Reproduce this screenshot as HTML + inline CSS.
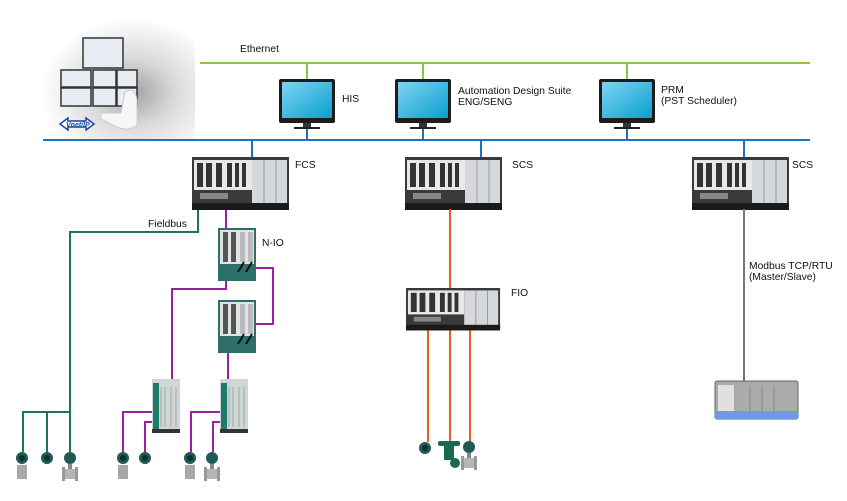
<!DOCTYPE html>
<html><head><meta charset="utf-8"><style>
html,body{margin:0;padding:0;background:#fff;width:847px;height:501px;overflow:hidden}
text{font-family:"Liberation Sans",Arial,sans-serif;font-size:10.3px;fill:#111}
</style></head><body>
<svg width="847" height="501" viewBox="0 0 847 501" xmlns="http://www.w3.org/2000/svg">
<defs>
<radialGradient id="blob" cx="0.6" cy="0.62" r="0.6">
<stop offset="0" stop-color="#8a8a8a"/><stop offset="0.45" stop-color="#d0d0d0"/><stop offset="1" stop-color="#fff"/></radialGradient>
<linearGradient id="scr" x1="0" y1="0" x2="1" y2="1"><stop offset="0" stop-color="#7fd3f0"/><stop offset="1" stop-color="#0a9fd0"/></linearGradient>
<g id="mon"><rect x="0" y="0" width="56" height="44" rx="2" fill="#1c1c1c"/><rect x="3" y="3" width="50" height="36" fill="url(#scr)"/><rect x="24" y="44" width="8" height="4" fill="#333"/><rect x="15" y="48" width="26" height="2" fill="#222"/></g>
<g id="rack"><rect x="0" y="0" width="97" height="53" fill="#3a3a3a"/><rect x="2" y="3" width="58" height="30" fill="#e8e8e8"/>
<g fill="#333"><rect x="5" y="6" width="6" height="24"/><rect x="14" y="6" width="6" height="24"/><rect x="24" y="6" width="6" height="24"/><rect x="35" y="6" width="5" height="24"/><rect x="43" y="6" width="4" height="24"/><rect x="50" y="6" width="4" height="24"/></g>
<rect x="60" y="3" width="35" height="44" fill="#d5d8da"/><line x1="72" y1="3" x2="72" y2="47" stroke="#999"/><line x1="84" y1="3" x2="84" y2="47" stroke="#999"/>
<rect x="8" y="36" width="28" height="6" fill="#888"/><rect x="0" y="46" width="97" height="7" fill="#1a1a1a"/></g>
<g id="nio"><rect x="0" y="0" width="38" height="53" fill="#2e6e68"/><rect x="2" y="2" width="34" height="34" fill="#dfe4e4"/><g fill="#555"><rect x="5" y="4" width="5" height="30"/><rect x="13" y="4" width="5" height="30"/></g><rect x="22" y="4" width="5" height="30" fill="#bbb"/><rect x="30" y="4" width="5" height="30" fill="#bbb"/><line x1="20" y1="44" x2="26" y2="34" stroke="#111" stroke-width="2"/><line x1="28" y1="44" x2="34" y2="34" stroke="#111" stroke-width="2"/></g>
<g id="io"><rect x="0" y="0" width="28" height="54" fill="#cfd6d6"/><rect x="1" y="4" width="6" height="48" fill="#1f7a6e"/><g stroke="#888" stroke-width="0.6"><line x1="9" y1="8" x2="9" y2="48"/><line x1="13" y1="8" x2="13" y2="48"/><line x1="19" y1="8" x2="19" y2="48"/><line x1="24" y1="8" x2="24" y2="48"/></g><rect x="0" y="50" width="28" height="4" fill="#333"/></g>
<g id="tx"><circle cx="7" cy="6" r="6" fill="#1f5a55"/><circle cx="7" cy="6" r="3" fill="#0e2f2c"/><rect x="2" y="13" width="10" height="14" fill="#a8a8a8"/></g>
<g id="hd"><circle cx="7" cy="6" r="6" fill="#1f5a55"/><circle cx="7" cy="6" r="3" fill="#0e2f2c"/></g>
<g id="flow"><circle cx="8" cy="6" r="6" fill="#1f5a55"/><rect x="6" y="12" width="4" height="5" fill="#888"/><rect x="1" y="17" width="14" height="10" fill="#b5b5b5"/><rect x="0" y="15" width="3" height="14" fill="#999"/><rect x="13" y="15" width="3" height="14" fill="#999"/></g>
</defs>

<!-- left console graphic -->
<rect x="40" y="15" width="155" height="125" fill="url(#blob)" opacity="0.8"/>
<rect x="83" y="38" width="40" height="30" fill="#e6ecf2" stroke="#333" stroke-width="1.5"/>
<g fill="#e6ecf2" stroke="#333" stroke-width="1.5"><rect x="61" y="70" width="30" height="17"/><rect x="93" y="70" width="23" height="17"/><rect x="117" y="70" width="20" height="17"/><rect x="61" y="88" width="30" height="18"/><rect x="93" y="88" width="23" height="18"/><rect x="117" y="88" width="20" height="18"/></g>
<path d="M125 92 q10 -6 12 8 l0 25 q-10 8 -24 0 l-12 -6 l0 -6 l20 0 z" fill="#f6f6f6" stroke="#ccc"/>
<path d="M60 124 l8 -6 l0 3 l18 0 l0 -3 l8 6 l-8 6 l0 -3 l-18 0 l0 3 z" fill="#fff" stroke="#1a47a0" stroke-width="1.5"/>
<text x="66" y="127" style="font-size:7px;font-weight:bold;fill:#1a47a0;font-style:italic">Vnet/IP</text>

<!-- Ethernet -->
<line x1="200" y1="63" x2="810" y2="63" stroke="#8cc63f" stroke-width="2"/>
<text x="240" y="52">Ethernet</text>
<g stroke="#8cc63f" stroke-width="2"><line x1="307" y1="63" x2="307" y2="79"/><line x1="423" y1="63" x2="423" y2="79"/><line x1="627" y1="63" x2="627" y2="79"/></g>
<!-- Vnet blue -->
<line x1="43" y1="140" x2="810" y2="140" stroke="#1a73c8" stroke-width="2"/>
<g stroke="#1a73c8" stroke-width="2"><line x1="307" y1="125" x2="307" y2="140"/><line x1="423" y1="125" x2="423" y2="140"/><line x1="627" y1="125" x2="627" y2="140"/><line x1="252" y1="140" x2="252" y2="157"/><line x1="481" y1="140" x2="481" y2="157"/><line x1="744" y1="140" x2="744" y2="157"/></g>

<use href="#mon" x="279" y="79"/><use href="#mon" x="395" y="79"/><use href="#mon" x="599" y="79"/>
<text x="342" y="102">HIS</text>
<text x="458" y="94">Automation Design Suite</text><text x="458" y="105">ENG/SENG</text>
<text x="661" y="93">PRM</text><text x="661" y="104">(PST Scheduler)</text>

<use href="#rack" x="192" y="157"/><use href="#rack" x="405" y="157"/><use href="#rack" x="692" y="157"/>
<text x="295" y="168">FCS</text><text x="512" y="168">SCS</text><text x="792" y="168">SCS</text>

<!-- Fieldbus -->
<g stroke="#1b7a4a" stroke-width="2" fill="none"><polyline points="198,210 198,232 70,232 70,452"/><polyline points="23,452 23,412 70,412"/><line x1="47" y1="412" x2="47" y2="452"/></g>
<text x="148" y="227">Fieldbus</text>

<!-- N-IO purple -->
<g stroke="#9b1fa0" stroke-width="2" fill="none">
<line x1="226" y1="210" x2="226" y2="228"/>
<polyline points="226,281 226,289 172,289 172,379"/>
<polyline points="256,268 273,268 273,324 256,324"/>
<line x1="228" y1="353" x2="228" y2="379"/>
<polyline points="152,412 123,412 123,452"/><polyline points="152,422 145,422 145,452"/>
<polyline points="220,412 191,412 191,452"/><polyline points="220,422 213,422 213,452"/>
</g>
<use href="#nio" x="218" y="228"/><use href="#nio" x="218" y="300"/>
<text x="262" y="246">N-IO</text>
<use href="#io" x="152" y="379"/><use href="#io" x="220" y="379"/>

<!-- devices left -->
<use href="#tx" x="15" y="452"/><use href="#hd" x="40" y="452"/><use href="#flow" x="62" y="452"/>
<use href="#tx" x="116" y="452"/><use href="#hd" x="138" y="452"/>
<use href="#tx" x="183" y="452"/><use href="#flow" x="204" y="452"/>

<!-- SCS -> FIO orange -->
<g stroke="#f05a1e" stroke-width="2"><line x1="450" y1="209" x2="450" y2="288"/><line x1="428" y1="330" x2="428" y2="442"/><line x1="450" y1="330" x2="450" y2="442"/><line x1="470" y1="330" x2="470" y2="442"/></g>
<use href="#rack" x="406" y="288" transform="translate(406 288) scale(0.97 0.8) translate(-406 -288)"/>
<text x="511" y="296">FIO</text>
<use href="#hd" x="418" y="442"/>
<g><rect x="438" y="441" width="22" height="5" rx="2" fill="#1b6a50"/><rect x="444" y="446" width="10" height="14" fill="#1b6a50"/><circle cx="455" cy="463" r="5" fill="#1b6a50"/></g>
<use href="#flow" x="461" y="441"/>

<!-- Modbus -->
<line x1="744" y1="209" x2="744" y2="381" stroke="#777" stroke-width="2"/>
<text x="749" y="269">Modbus TCP/RTU</text><text x="749" y="280">(Master/Slave)</text>
<rect x="715" y="381" width="83" height="38" rx="2" fill="#a9aca8" stroke="#666"/>
<rect x="718" y="385" width="16" height="28" fill="#e0e0e0"/><rect x="715" y="411" width="83" height="8" fill="#6d9be0"/>
<g stroke="#888"><line x1="750" y1="385" x2="750" y2="411"/><line x1="762" y1="385" x2="762" y2="411"/><line x1="774" y1="385" x2="774" y2="411"/></g>
</svg>
</body></html>
